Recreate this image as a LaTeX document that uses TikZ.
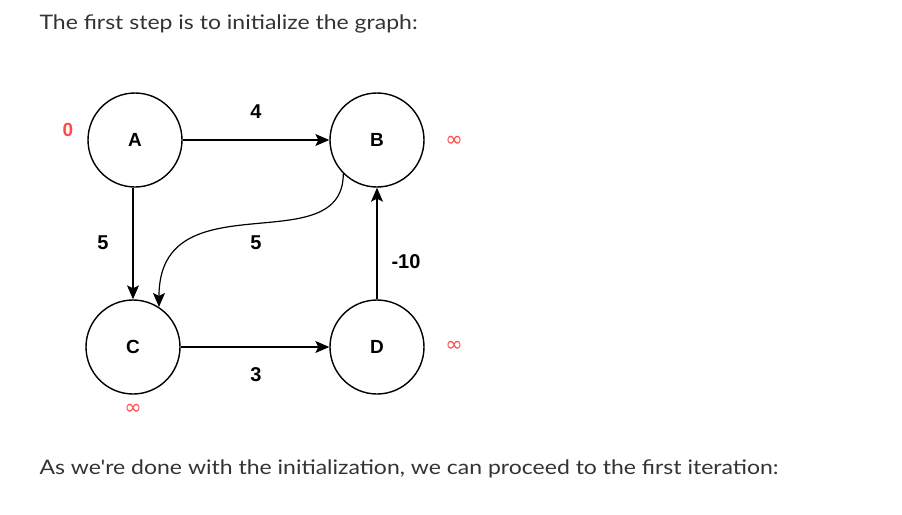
\documentclass[tikz,border=0pt]{standalone}
\usepackage{fontspec}
\setmainfont{Lato}
\newfontfamily\bodyfont[FakeStretch=1.15]{Lato}
\newfontfamily\graphfont{Liberation Sans}
\newfontfamily\symbfont{DejaVu Sans}
\usetikzlibrary{arrows.meta}

\definecolor{bodytext}{HTML}{333333}
\definecolor{distred}{HTML}{FF4A4A}

\begin{document}
\begin{tikzpicture}[x=1pt,y=-1pt,
  vertex/.style={draw, circle, line width=1.4pt, minimum size=94pt, inner sep=0pt,
    font=\graphfont\fontsize{19}{19}\selectfont\bfseries},
  edge/.style={line width=1.2pt, -{Stealth[length=14pt,width=12pt,inset=3pt]}},
  weight/.style={font=\graphfont\fontsize{20}{20}\selectfont\bfseries},
  dist/.style={text=distred, font=\graphfont\fontsize{19}{19}\selectfont\bfseries},
  infdist/.style={text=distred, font=\symbfont\fontsize{21}{21}\selectfont}]
  \useasboundingbox (0,0) rectangle (902,514);
  % text around the picture
  \node[anchor=base west, text=bodytext, font=\bodyfont\fontsize{20}{20}\selectfont] (intro) at (36,29)
    {The first step is to initialize the graph:};
  \node[anchor=base west, text=bodytext, font=\bodyfont\fontsize{20}{20}\selectfont] (outro) at (36,474)
    {As we're done with the initialization, we can proceed to the first iteration:};
  % vertices
  \node[vertex] (A) at (135,140) {A};
  \node[vertex] (B) at (377,140) {B};
  \node[vertex] (C) at (133,347) {C};
  \node[vertex] (D) at (377,347) {D};
  % edges
  \draw[edge] (A) -- (B);
  \draw[edge] (A.south -| C.north) -- (C.north);
  \draw[edge] (C) -- (D);
  \draw[edge] (D) -- (B);
  \draw[edge] (B.225) .. controls +(0,90) and +(0,-130) .. (C.57);
  % weights
  \node[weight] (wAB) at (256,112) {4};
  \node[weight] (wAC) at (103,243) {5};
  \node[weight] (wBC) at (256,243) {5};
  \node[weight] (wDB) at (406,262) {-10};
  \node[weight] (wCD) at (256,375) {3};
  % distances
  \node[dist] (dA) at (68,130) {0};
  \node[infdist] (dB) at (454,141) {∞};
  \node[infdist] (dC) at (133,409) {∞};
  \node[infdist] (dD) at (454,346) {∞};
\end{tikzpicture}
\end{document}
